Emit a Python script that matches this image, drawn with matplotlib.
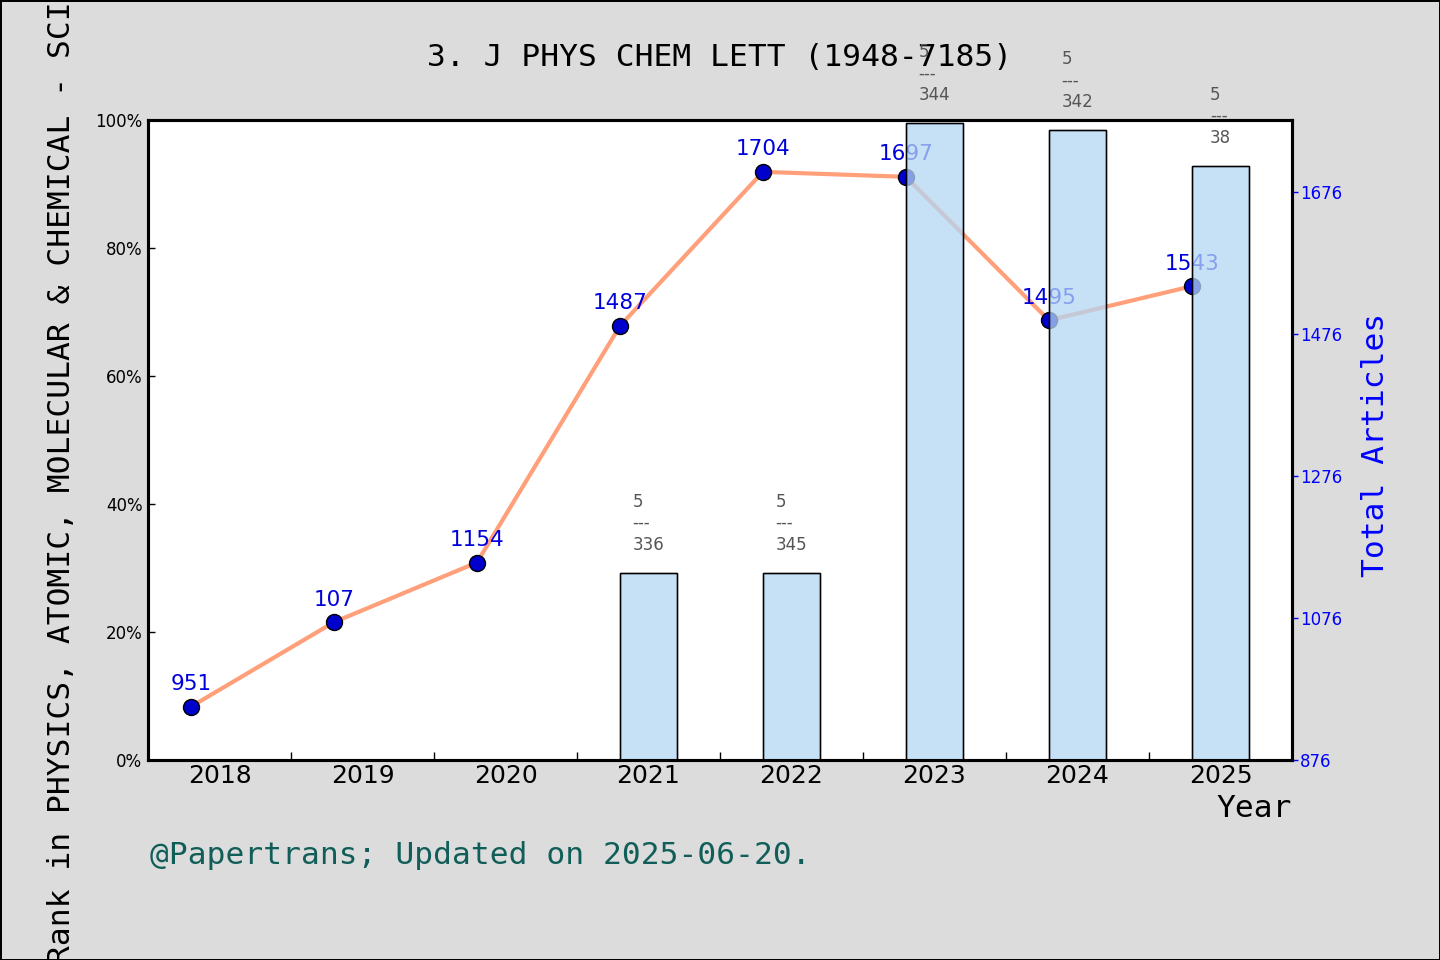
import numpy as np
import matplotlib
matplotlib.use('Agg')
import matplotlib.pyplot as plt
from matplotlib.ticker import FixedLocator, FuncFormatter

# data
years = ['2018', '2019', '2020', '2021', '2022', '2023', '2024', '2025']
articles = [951, 1070, 1154, 1487, 1704, 1697, 1495, 1543]
article_labels = ['951', '107', '1154', '1487', '1704', '1697', '1495', '1543']
bar_years = ['2021', '2022', '2023', '2024', '2025']
rank_pct = [29.2, 29.2, 99.5, 98.4, 92.8]
rank_num = [5, 5, 5, 5, 5]
rank_den = [336, 345, 344, 342, 38]

title = '3. J PHYS CHEM LETT (1948-7185)'
left_label = 'Rank in PHYSICS, ATOMIC, MOLECULAR & CHEMICAL - SCIE'
footer = '@Papertrans; Updated on 2025-06-20.'

mono = 'DejaVu Sans Mono'
narrow = ['Liberation Sans Narrow', 'DejaVu Sans']

fig = plt.figure(figsize=(14.4, 9.6), dpi=100, facecolor='#dcdcdc',
                 edgecolor='black', linewidth=2)
ax = fig.add_axes([148/1440, 1-760/960, 1144/1440, 640/960])
ax2 = ax.twinx()

# bars drawn above the line axes
ax.set_zorder(2)
ax.patch.set_visible(False)
ax2.set_zorder(1)
ax2.patch.set_visible(True)
ax2.patch.set_facecolor('white')

x = np.arange(len(years))
xb = np.array([years.index(y) for y in bar_years])

# line of total articles
xl = x - 0.2
ax2.plot(xl, articles, '-', color='#ffa07a', linewidth=3, zorder=2)
ax2.plot(xl, articles, 'o', color='#0000cd', markersize=11.5,
         markeredgecolor='black', markeredgewidth=1, zorder=3)
for xi, yi, lab in zip(xl, articles, article_labels):
    ax2.annotate(lab, (xi, yi), xytext=(0, 9), textcoords='offset points',
                 ha='center', va='bottom', color='#0000dd', fontsize=15.5,
                 family='DejaVu Sans')

ax2.set_ylim(876, 1777)
ax2.yaxis.set_major_locator(FixedLocator(np.arange(876, 1777, 200)))
ax2.tick_params(axis='y', colors='blue', direction='out', length=4,
                width=1, labelsize=12, pad=2)

# bars of rank percentage
ax.bar(xb, rank_pct, width=0.4, color='#b4d6f4', alpha=0.75,
       edgecolor='black', linewidth=1)
ax.bar(xb, rank_pct, width=0.4, color='none', edgecolor='black', linewidth=1)
for xi, h, n, d in zip(xb, rank_pct, rank_num, rank_den):
    ax.annotate('%d\n---\n%d' % (n, d), (xi, h), xytext=(0, 14),
                textcoords='offset points', ha='center', va='bottom',
                multialignment='left', color='#555555', fontsize=12,
                family='DejaVu Sans', annotation_clip=False, linespacing=1.25)

ax.set_xlim(-0.5, len(years) - 0.5)
ax.set_ylim(0, 100)
ax.set_xticks(x)
ax.set_xticklabels(years, family=narrow, fontsize=18)
ax.xaxis.set_minor_locator(FixedLocator(x[:-1] + 0.5))
ax.tick_params(axis='x', which='major', length=0, pad=3)
ax.tick_params(axis='x', which='minor', direction='in', length=6, width=1)
ax.yaxis.set_major_locator(FixedLocator(np.arange(0, 101, 20)))
ax.yaxis.set_major_formatter(FuncFormatter(lambda v, p: '%d%%' % v))
ax.tick_params(axis='y', direction='in', length=5, width=1, labelsize=12, pad=4)

for a in (ax, ax2):
    for s in a.spines.values():
        s.set_linewidth(2.2)
        s.set_color('black')

ax.set_xlabel('Year', family=mono, fontsize=22.5, loc='right', labelpad=4)

fig.text(0.5, 1-57/960, title, ha='center', va='center', family=mono,
         fontsize=22.5, zorder=1)
fig.text(62/1440, -4/960, left_label, rotation=90, ha='center', va='bottom',
         family=mono, fontsize=22.5)
fig.text(1375/1440, 1-445/960, 'Total Articles', rotation=90, ha='center',
         va='center', family=mono, fontsize=22.5, color='blue')
fig.text(150/1440, 1-855/960, footer, ha='left', va='center', family=mono,
         fontsize=22.5, color='#115e59')

fig.savefig('out.png', dpi=100, facecolor=fig.get_facecolor(),
            edgecolor=fig.get_edgecolor())
